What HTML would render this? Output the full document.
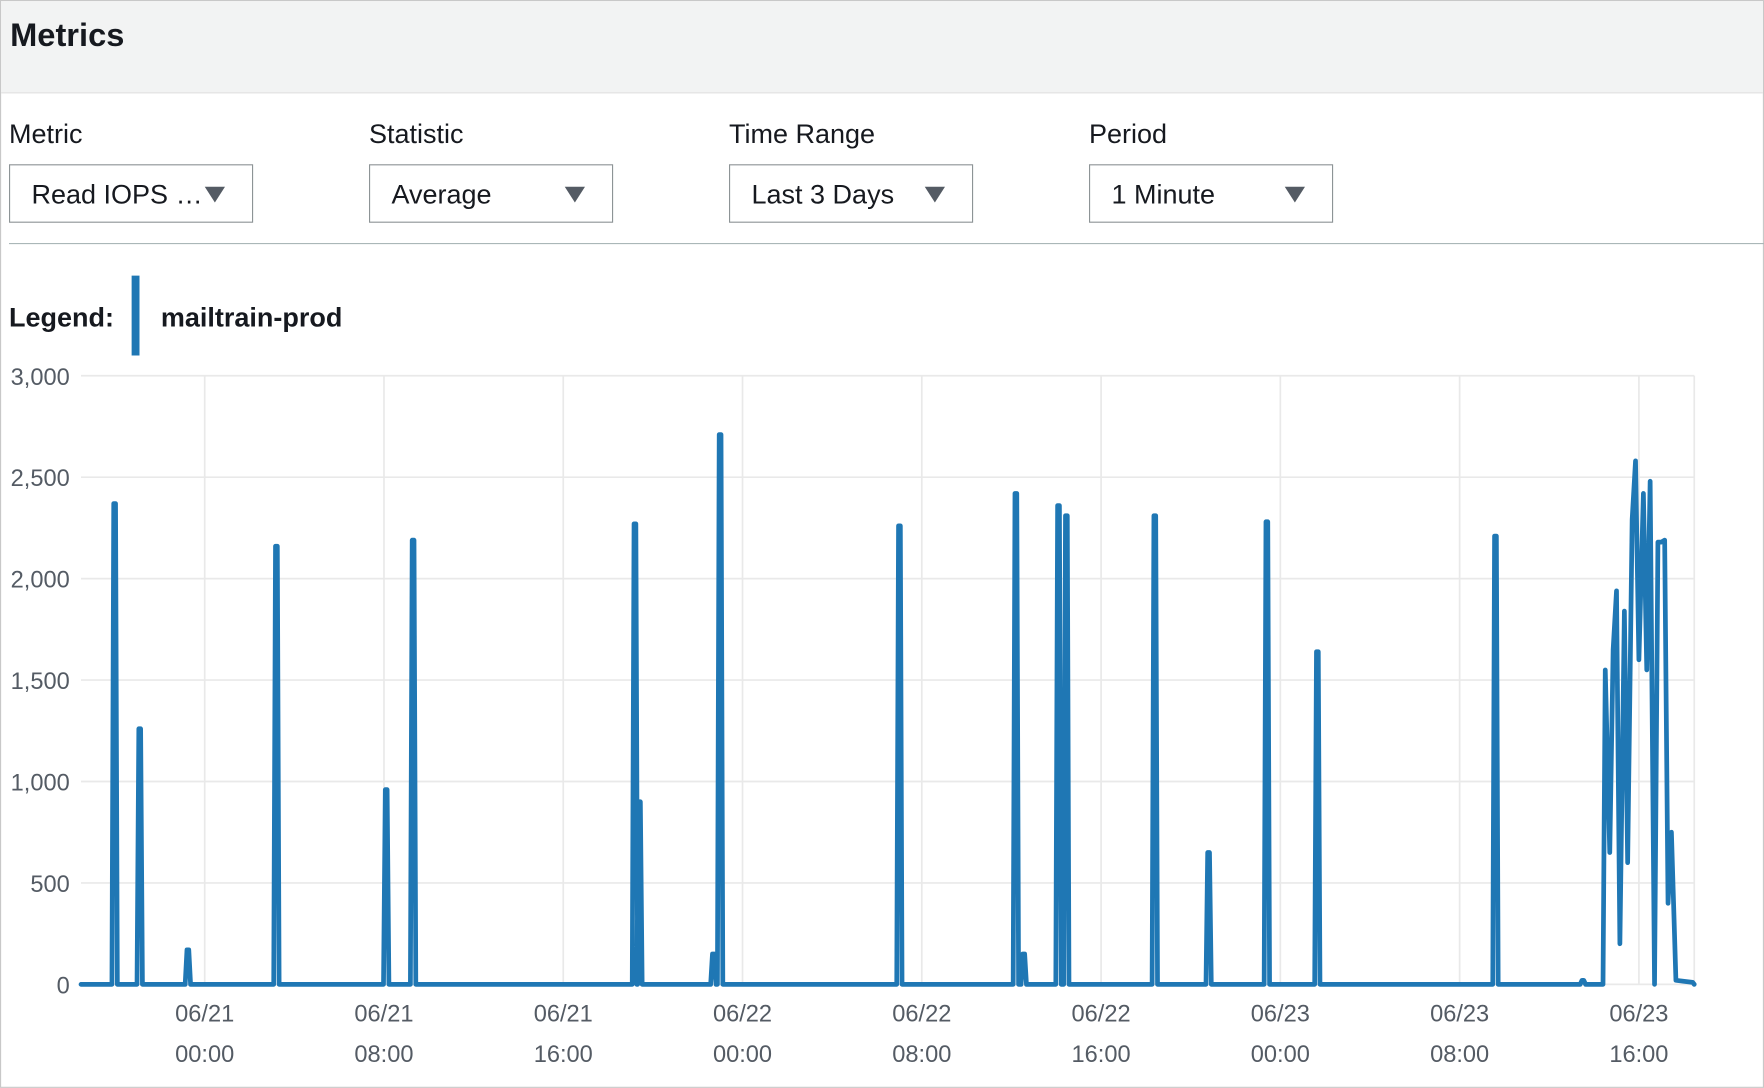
<!DOCTYPE html>
<html><head><meta charset="utf-8"><style>
html,body{margin:0;padding:0;width:1764px;height:1088px;overflow:hidden;background:#fff;font-family:"Liberation Sans",sans-serif;}
#wrap{position:absolute;left:0;top:0;width:1568px;height:967px;transform:scale(1.125);transform-origin:0 0;}
.frame{position:absolute;left:0;top:0;width:1566px;height:965px;border:1px solid #c8c8c8;}
.hdr{position:absolute;left:1px;top:1px;width:1566px;height:81px;background:#f2f3f3;border-bottom:1px solid #e2e2e2;}
.title{position:absolute;left:8px;top:15px;font-size:29px;font-weight:bold;color:#16191f;}
.lbl{position:absolute;top:106px;font-size:24px;color:#16191f;}
.dd{position:absolute;top:146px;width:215px;height:50px;border:1px solid #8d9496;box-sizing:content-box;font-size:24px;color:#16191f;}
.dd span{position:absolute;left:19px;top:13px;}
.tri{position:absolute;right:24px;top:19px;width:0;height:0;border-left:9px solid transparent;border-right:9px solid transparent;border-top:14px solid #545b64;}
.sep{position:absolute;left:8px;top:216px;width:1560px;height:1px;background:#aab7b8;}
</style></head><body><div id="wrap">
<div class="frame"></div>
<div class="hdr"><div class="title">Metrics</div></div>
<div class="lbl" style="left:8px">Metric</div>
<div class="lbl" style="left:328px">Statistic</div>
<div class="lbl" style="left:648px">Time Range</div>
<div class="lbl" style="left:968px">Period</div>
<div class="dd" style="left:8px"><span>Read IOPS …</span><div class="tri"></div></div>
<div class="dd" style="left:328px"><span>Average</span><div class="tri"></div></div>
<div class="dd" style="left:648px"><span>Last 3 Days</span><div class="tri"></div></div>
<div class="dd" style="left:968px"><span>1 Minute</span><div class="tri"></div></div>
<div class="sep"></div>
<svg id="chart" width="1568" height="967" style="position:absolute;left:0;top:0"></svg>
</div>
<script>
const yTicks=[0,500,1000,1500,2000,2500,3000];
const yTickLabels=["0","500","1,000","1,500","2,000","2,500","3,000"];
const xTickHours=[0,8,16,24,32,40,48,56,64];
const xTickDates=["06/21","06/21","06/21","06/22","06/22","06/22","06/23","06/23","06/23"];
const xTickTimes=["00:00","08:00","16:00","00:00","08:00","16:00","00:00","08:00","16:00"];
const seriesName="mailtrain-prod";
const peakHours=[-4.02,-2.9,-0.75,3.2,8.1,9.3,19.2,19.4,22.7,23.0,31.0,36.2,36.55,38.1,38.45,42.4,44.8,47.4,49.65,57.6,61.5];
const peakValues=[2370,1260,170,2160,960,2190,2270,900,150,2710,2260,2420,150,2360,2310,2310,650,2280,1640,2210,20];
const clusterHours=[62.5,62.7,62.85,63.0,63.15,63.35,63.5,63.7,63.85,64.0,64.2,64.35,64.5,64.7,64.85,65.0,65.15,65.3,65.45,65.65,66.4];
const clusterValues=[1550,650,1650,1940,200,1840,600,2290,2580,1600,2420,1550,2480,0,2180,2180,2190,400,750,20,10];
const tStart=-5.52,tEnd=66.47;
const X0=72,X1=1506,Y0=875,Y1=334;
const xs=t=>X0+(t-tStart)/(tEnd-tStart)*(X1-X0);
const ys=v=>Y0-v/3000*(Y0-Y1);
const NS="http://www.w3.org/2000/svg";
const svg=document.getElementById('chart');
function mk(tag,attrs,txt){const e=document.createElementNS(NS,tag);for(const k in attrs)e.setAttribute(k,attrs[k]);if(txt!==undefined)e.textContent=txt;svg.appendChild(e);return e;}
let e=mk('text',{x:8,y:290,'font-size':24,'font-weight':'bold',fill:'#16191f'},'Legend:');


e=mk('rect',{x:117,y:245,width:7,height:71,fill:'#1f77b4'});


e=mk('text',{x:143,y:290,'font-size':24,'font-weight':'bold',fill:'#16191f'},seriesName);


yTicks.forEach((v,i)=>{
  e=mk('line',{x1:X0,x2:X1,y1:ys(v),y2:ys(v),stroke:'#e9e9e9','stroke-width':1.5});
  
  
  e=mk('text',{x:62,y:ys(v)+8,'text-anchor':'end','font-size':21,fill:'#545b64'},yTickLabels[i]);
  
  
});
xTickHours.forEach((h,i)=>{
  e=mk('line',{x1:xs(h),x2:xs(h),y1:Y1,y2:Y0,stroke:'#e9e9e9','stroke-width':1.5});
  
  
  e=mk('text',{x:xs(h),y:908,'text-anchor':'middle','font-size':21,fill:'#545b64'},xTickDates[i]);
  
  
  e=mk('text',{x:xs(h),y:944,'text-anchor':'middle','font-size':21,fill:'#545b64'},xTickTimes[i]);
  
  
});
e=mk('line',{x1:X1,x2:X1,y1:Y1,y2:Y0,stroke:'#e9e9e9','stroke-width':1.5});


const pts=[[tStart,0]];
peakHours.forEach((h,i)=>{pts.push([h-0.12,0],[h-0.04,peakValues[i]],[h+0.04,peakValues[i]],[h+0.12,0]);});
pts.push([clusterHours[0]-0.1,0]);
clusterHours.forEach((h,i)=>pts.push([h,clusterValues[i]]));
pts.push([tEnd,0]);
const d=pts.map((p,i)=>(i?'L':'M')+xs(p[0]).toFixed(1)+','+ys(p[1]).toFixed(1)).join(' ');
e=mk('path',{d:d,fill:'none',stroke:'#1f77b4','stroke-width':4.2,'stroke-linejoin':'round','stroke-linecap':'round'});


</script></body></html>
